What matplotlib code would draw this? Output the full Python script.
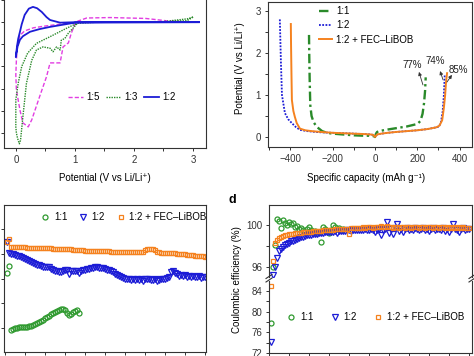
import matplotlib
matplotlib.use("Agg")
import matplotlib.pyplot as plt
from matplotlib.lines import Line2D
from matplotlib.ticker import MultipleLocator

W, H = 474, 356

# ---- a: cyclic voltammograms (potential V, current arb.)
cv15_v = [3.0, 2.6, 2.2, 1.6, 1.2, 1.05, 1.0, 0.94, 0.89, 0.8, 0.75, 0.58, 0.52, 0.4, 0.27,
          0.21, 0.12, 0.07, 0.01, 0.0, 0.01, 0.03, 0.07, 0.15, 0.3, 0.5, 0.8, 1.0, 1.5, 2.0, 3.0]
cv15_i = [0.0, 0.02, 0.08, 0.1, 0.09, 0.02, -0.05, -0.25, -0.47, -0.56, -0.92, -0.92, -1.23, -1.69, -2.2,
          -2.36, -2.27, -1.98, -1.53, -1.19, -0.85, -0.5, -0.3, -0.2, -0.13, -0.09, -0.04, -0.01, 0.0, 0.0, 0.0]
cv13_v = [3.0, 2.9, 2.5, 2.0, 1.5, 1.05, 0.94, 0.89, 0.83, 0.77, 0.75, 0.69, 0.63, 0.58, 0.46, 0.35,
          0.27, 0.18, 0.12, 0.08, 0.06, 0.03, 0.01, 0.0, 0.0, 0.04, 0.1, 0.2, 0.35, 0.58, 0.86, 1.05,
          1.5, 2.0, 2.5, 2.73, 2.9, 3.0]
cv13_i = [0.11, 0.03, 0.0, 0.0, 0.0, -0.02, -0.18, -0.25, -0.37, -0.41, -0.63, -0.56, -0.67, -0.59, -0.56, -0.63,
          -0.86, -1.38, -2.13, -2.66, -2.74, -2.62, -2.5, -2.36, -1.75, -1.38, -1.0, -0.7, -0.48, -0.33, -0.14, -0.02,
          0.0, 0.0, 0.01, 0.045, 0.07, 0.11]
cv12_v = [3.1, 2.0, 1.0, 0.8, 0.58, 0.4, 0.24, 0.12, 0.07, 0.03, 0.0, 0.02, 0.04, 0.07, 0.1, 0.15,
          0.22, 0.29, 0.36, 0.44, 0.52, 0.58, 0.75, 1.0, 2.0, 3.1]
cv12_i = [-0.005, -0.01, -0.015, -0.06, -0.11, -0.16, -0.22, -0.32, -0.4, -0.55, -0.79, -0.55, -0.38, -0.22, -0.05, 0.16,
          0.3, 0.34, 0.31, 0.225, 0.11, 0.045, -0.015, -0.005, 0.0, 0.0]

# ---- b: first cycle voltage profiles (capacity mAh/g, potential V)
b11_cap = [-312, -311, -309, -306, -300, -290, -275, -250, -227, -200, -150, -100, -50, -20, -5, 0,
           5, 10, 20, 50, 100, 150, 200, 215, 225, 232, 237, 240]
b11_v = [2.43, 2.0, 1.4, 0.76, 0.5, 0.35, 0.24, 0.14, 0.1, 0.08, 0.06, 0.04, 0.03, 0.03, 0.02, 0.0,
         0.08, 0.12, 0.14, 0.17, 0.21, 0.25, 0.31, 0.38, 0.55, 0.8, 1.1, 1.42]
b12_cap = [-450, -448, -445, -440, -426, -410, -393, -375, -355, -320, -280, -250, -200, -150, -100, -50,
           -20, -8, 0, 10, 30, 60, 100, 150, 200, 250, 290, 303, 312, 320, 326, 330]
b12_v = [2.8, 2.4, 1.8, 1.0, 0.57, 0.42, 0.33, 0.24, 0.17, 0.14, 0.12, 0.11, 0.1, 0.09, 0.08, 0.07,
         0.06, 0.05, 0.0, 0.06, 0.08, 0.1, 0.12, 0.14, 0.16, 0.19, 0.23, 0.25, 0.35, 0.6, 1.0, 1.48]
bfec_cap = [-398, -397, -395, -393, -386, -379, -370, -355, -330, -300, -255, -200, -150, -100, -50, -20,
            -8, 0, 10, 30, 60, 100, 150, 200, 250, 290, 305, 318, 326, 332, 336, 341]
bfec_v = [2.69, 2.2, 1.5, 0.88, 0.62, 0.48, 0.33, 0.2, 0.16, 0.14, 0.12, 0.1, 0.09, 0.08, 0.07, 0.06,
          0.05, 0.0, 0.06, 0.08, 0.1, 0.12, 0.14, 0.16, 0.19, 0.23, 0.27, 0.4, 0.7, 1.0, 1.3, 1.52]
ce_labels = ["77%", "74%", "85%"]
ce_text_xy = [(175, 1.71), (284, 1.81), (393, 1.60)]
ce_tail_xy = [(227, 1.24), (322, 1.36), (341, 1.31)]
ce_head_xy = [(208, 1.55), (308, 1.57), (364, 1.48)]

# ---- c: cycling capacity
cap_11 = [211, 225, 96, 98, 100, 101, 102, 102, 102.5, 103, 103, 104, 105, 106.5, 108, 110, 112, 114.5,
          117, 119.5, 122, 125, 127.5, 130, 133, 135, 137, 138, 137.5, 136, 130, 126, 129, 133, 134, 136, 131]
cap_12 = [274, 251, 250, 249, 247.5, 246, 244.5, 243, 241, 239, 237, 235, 233, 231, 229.5, 228, 226.5, 225,
          224, 223.5, 223, 222.5, 220, 218, 216, 215, 214, 213.5, 216, 217, 217.5, 210, 216, 215.5, 215, 215.5,
          211, 216, 217.5, 218, 218.5, 220, 221.5, 222, 222.5, 222.5, 221.5, 222, 220.5, 219.5, 218, 216.5,
          214.5, 213, 210, 207, 205, 203, 201, 199, 200, 198.5, 197.5, 198, 196, 199, 197.5, 199, 194, 198,
          199.5, 200, 197.5, 197, 198, 195, 197, 198, 199.5, 200, 201, 204, 213, 215, 212, 210, 206, 208,
          205, 207, 204, 206, 203, 205, 204, 203, 205, 202, 204, 203]
cap_fec = [274, 280, 264.5, 264.2, 264.0, 263.8, 263.5, 263.2, 263.0, 262.8, 262.6, 262.5, 262.3, 262.2,
           262.0, 261.8, 261.7, 261.5, 261.3, 261.2, 261.0, 260.9, 260.8, 260.6, 260.5, 260.3, 260.2, 260.0,
           259.8, 259.7, 259.5, 259.2, 258.8, 258.4, 258.0, 257.6, 257.3, 257.0, 256.7, 256.5, 256.3, 256.1,
           255.9, 255.7, 255.5, 255.3, 255.1, 255.0, 254.9, 254.8, 254.7, 254.6, 254.5, 254.5, 254.4, 254.3,
           254.3, 254.2, 254.2, 254.1, 254.1, 254.0, 254.0, 253.9, 253.9, 253.8, 253.8, 253.7, 254.5, 258.5,
           259.2, 259.3, 259.2, 259.0, 258.5, 253.0, 252.6, 252.3, 252.1, 251.9, 251.7, 251.4, 251.2, 250.9,
           250.6, 250.3, 250.0, 249.6, 249.2, 248.8, 248.3, 247.8, 247.3, 246.9, 246.4, 245.9, 245.4, 245.0,
           244.6, 244.2]

# ---- d: coulombic efficiency (%)
ce_11 = [77.8, 96.0, 98.1, 100.6, 100.4, 99.7, 100.5, 100.2, 100.0, 100.3, 100.1, 100.2, 99.8, 99.9, 99.6,
         99.7, 99.5, 99.3, 99.6, 99.8, 99.5, 99.3, 99.4, 99.2, 99.3, 98.4, 99.8, 99.6, 99.4, 99.2, 99.5, 100.0,
         99.8, 99.6, 99.7, 99.5, 99.6]
ce_12 = [74.1, 95.2, 96.0, 96.9, 97.5, 97.7, 97.9, 98.1, 98.2, 98.3, 98.5, 98.5, 98.6, 98.7, 98.8, 98.85,
         98.9, 98.95, 99.0, 99.0, 99.05, 99.1, 99.1, 99.15, 99.2, 99.2, 99.25, 99.3, 99.3, 99.3, 99.35, 99.35,
         99.4, 99.2, 99.4, 99.45, 99.4, 99.45, 99.5, 99.5, 99.45, 99.5, 99.55, 99.5, 99.55, 99.5, 99.55, 99.6,
         99.55, 99.5, 99.6, 99.55, 99.3, 99.5, 99.6, 99.0, 99.55, 99.6, 100.3, 99.2, 99.6, 99.1, 99.7, 100.1,
         99.4, 99.6, 99.3, 99.6, 99.7, 99.5, 99.6, 99.5, 99.7, 99.6, 99.5, 99.6, 99.7, 99.5, 99.6, 99.4,
         99.6, 99.7, 99.5, 99.6, 99.6, 99.5, 99.7, 99.4, 99.6, 99.3, 99.6, 100.1, 99.6, 99.5, 99.3, 99.6,
         99.7, 99.5, 99.6, 99.6]
ce_fec = [85.0, 96.6, 98.3, 98.6, 98.8, 98.9, 98.95, 99.0, 99.05, 99.1, 99.1, 99.15, 99.2, 99.2, 99.25,
          99.25, 99.3, 99.3, 99.3, 99.35, 99.35, 99.4, 99.4, 99.4, 99.45, 99.45, 99.5, 99.5, 99.5, 99.5,
          99.55, 99.55, 99.6, 99.6, 99.6, 99.6, 99.6, 99.65, 99.65, 99.1, 99.7, 99.7, 99.7, 99.75, 99.7,
          99.75, 99.8, 99.75, 99.8, 99.8, 99.8, 99.75, 99.8, 99.85, 99.8, 99.9, 99.85, 99.8, 99.9, 99.85,
          99.8, 99.75, 99.8, 99.8, 99.75, 99.8, 99.8, 99.75, 99.8, 99.8, 99.75, 99.8, 99.8, 99.8, 99.75,
          99.8, 99.8, 99.75, 99.8, 99.8, 99.8, 99.75, 99.8, 99.8, 99.75, 99.8, 99.8, 99.75, 99.8, 99.75,
          99.8, 99.75, 99.8, 99.75, 99.8, 99.75, 99.8, 99.75, 99.75, 99.75]

GREEN = "#2a8a2a"
GREEN_M = "#2f9a2f"
BLUE = "#1c1cd6"
MAGENTA = "#e23ee2"
ORANGE = "#f5821f"
SPINE = "#333333"

plt.rcParams["font.family"] = ["Liberation Sans", "DejaVu Sans"]
plt.rcParams["font.size"] = 7
plt.rcParams["axes.linewidth"] = 0.8
plt.rcParams["axes.edgecolor"] = SPINE
for ax_ in ("xtick", "ytick"):
    plt.rcParams[ax_ + ".direction"] = "out"
    plt.rcParams[ax_ + ".major.size"] = 2.5
    plt.rcParams[ax_ + ".minor.size"] = 2.0
    plt.rcParams[ax_ + ".major.width"] = 0.7
    plt.rcParams[ax_ + ".minor.width"] = 0.7
    plt.rcParams[ax_ + ".major.pad"] = 2.5
    plt.rcParams[ax_ + ".color"] = SPINE

fig = plt.figure(figsize=(W / 100, H / 100), dpi=100)


def box(x0, y0, x1, y1):
    # pixel box (top-left origin) -> figure fraction
    return [x0 / W, 1 - y1 / H, (x1 - x0) / W, (y1 - y0) / H]


def fxy(x, y):
    return (x / W, 1 - y / H)


# ------------------------------------------------------------- panel a
ax_a = fig.add_axes(box(4, -10, 206, 148))
ax_a.plot(cv15_v, cv15_i, color=MAGENTA, lw=1.0, ls=(0, (3, 1.5)), label="1:5")
ax_a.plot(cv13_v, cv13_i, color=GREEN, lw=1.0, ls=(0, (1, 0.8)), label="1:3")
ax_a.plot(cv12_v, cv12_i, color=BLUE, lw=1.3, label="1:2")
ax_a.set_xlim(-0.2, 3.22)
ax_a.set_ylim(-2.835, 0.72)
ax_a.xaxis.set_major_locator(MultipleLocator(1))
ax_a.xaxis.set_minor_locator(MultipleLocator(0.5))
ax_a.yaxis.set_major_locator(MultipleLocator(0.5))
ax_a.tick_params(axis="y", labelleft=False)  # labels lie outside the cropped picture
ax_a.legend(loc="center", bbox_to_anchor=fxy(122, 97), bbox_transform=fig.transFigure, ncol=3,
            frameon=False, handlelength=1.5, handletextpad=0.35, columnspacing=0.7,
            borderpad=0, borderaxespad=0)
fig.text(*fxy(105, 178), "Potential (V vs Li/Li\u207a)", ha="center", va="center")

# ------------------------------------------------------------- panel b
ax_b = fig.add_axes(box(268, 1.5, 472, 147))
ax_b.plot(b12_cap, b12_v, color=BLUE, lw=1.3, ls=(0, (1, 0.8)), label="1:2")
ax_b.plot(b11_cap, b11_v, color=GREEN, lw=1.7, ls=(0, (4, 1.5, 1, 1.5)), label="1:1")
ax_b.plot(bfec_cap, bfec_v, color=ORANGE, lw=1.4, label="1:2 + FEC\u2013LiBOB")
for lab, t, tail, head in zip(ce_labels, ce_text_xy, ce_tail_xy, ce_head_xy):
    ax_b.annotate("", xy=head, xytext=tail,
                  arrowprops=dict(arrowstyle="-|>", color="#333333", lw=0.6,
                                  mutation_scale=5, shrinkA=0, shrinkB=0))
    ax_b.text(t[0], t[1], lab, ha="center", va="center", fontsize=7, color="#222222")
ax_b.set_xlim(-506, 459)
ax_b.set_ylim(-0.238, 3.226)
ax_b.xaxis.set_major_locator(MultipleLocator(200))
ax_b.xaxis.set_minor_locator(MultipleLocator(100))
ax_b.yaxis.set_major_locator(MultipleLocator(1))
ax_b.yaxis.set_minor_locator(MultipleLocator(0.5))
hb, lb = ax_b.get_legend_handles_labels()
order = [1, 0, 2]
ax_b.legend([hb[i] for i in order], [lb[i] for i in order], loc="upper left",
            bbox_to_anchor=fxy(319, 6), bbox_transform=fig.transFigure,
            frameon=False, handlelength=1.3, handletextpad=0.5, labelspacing=0.45,
            borderpad=0, borderaxespad=0)
fig.text(*fxy(366, 178), "Specific capacity (mAh g\u207b\u00b9)", ha="center", va="center")
fig.text(*fxy(240, 68), "Potential (V vs Li/Li\u207a)", ha="center", va="center", rotation=90)

# ------------------------------------------------------------- panel c
ax_c = fig.add_axes(box(4, 205, 206, 352))
mk = dict(ls="none", mfc="none")
ax_c.plot(range(1, len(cap_11) + 1), cap_11, marker="o", mec=GREEN_M, ms=3.6, mew=0.9, label="1:1", **mk)
ax_c.plot(range(1, len(cap_12) + 1), cap_12, marker="v", mec=BLUE, ms=4.0, mew=0.9, label="1:2", **mk)
ax_c.plot(range(1, len(cap_fec) + 1), cap_fec, marker="s", mec=ORANGE, ms=3.0, mew=0.9,
          label="1:2 + FEC\u2013LiBOB", **mk)
ax_c.set_xlim(-0.5, 100.5)
ax_c.set_ylim(51.5, 348.5)
ax_c.xaxis.set_major_locator(MultipleLocator(10))
ax_c.yaxis.set_major_locator(MultipleLocator(50))
ax_c.tick_params(labelleft=False, labelbottom=False)
ax_c.legend(loc="center", bbox_to_anchor=fxy(124, 217), bbox_transform=fig.transFigure, ncol=3,
            frameon=False, handlelength=0.8, handletextpad=0.5, columnspacing=1.2,
            borderpad=0, borderaxespad=0)

# ------------------------------------------------------------- panel d (broken axis)
ax_d1 = fig.add_axes(box(269, 205, 472, 277))
ax_d2 = fig.add_axes(box(269, 281, 472, 353))
for axd in (ax_d1, ax_d2):
    axd.plot(range(1, len(ce_11) + 1), ce_11, marker="o", mec=GREEN_M, ms=3.6, mew=0.9, label="1:1", **mk)
    axd.plot(range(1, len(ce_12) + 1), ce_12, marker="v", mec=BLUE, ms=4.0, mew=0.9, label="1:2", **mk)
    axd.plot(range(1, len(ce_fec) + 1), ce_fec, marker="s", mec=ORANGE, ms=3.0, mew=0.9,
             label="1:2 + FEC\u2013LiBOB", **mk)
    axd.set_xlim(0, 101.5)
    axd.xaxis.set_major_locator(MultipleLocator(10))
ax_d1.set_ylim(95.05, 101.9)
ax_d1.yaxis.set_major_locator(MultipleLocator(4))
ax_d1.yaxis.set_minor_locator(MultipleLocator(2))
ax_d1.spines["bottom"].set_visible(False)
ax_d1.tick_params(axis="x", which="both", bottom=False, labelbottom=False)
ax_d2.set_ylim(72, 85.93)
ax_d2.yaxis.set_major_locator(MultipleLocator(4))
ax_d2.yaxis.set_minor_locator(MultipleLocator(2))
ax_d2.spines["top"].set_visible(False)
ax_d2.tick_params(axis="x", labelbottom=False)
ax_d2.legend(loc="center", bbox_to_anchor=fxy(376, 317), bbox_transform=fig.transFigure, ncol=3,
             frameon=False, handlelength=0.8, handletextpad=0.5, columnspacing=1.8,
             borderpad=0, borderaxespad=0)
for sx in (269, 472):
    for dy in (0, 3.5):
        x0, y0 = fxy(sx - 3, 280 + dy - 1.5)
        x1, y1 = fxy(sx + 3, 276 + dy - 1.5)
        fig.add_artist(Line2D([x0, x1], [y0, y1], color=SPINE, lw=0.8))
fig.text(*fxy(237, 280), "Coulombic efficiency (%)", ha="center", va="center", rotation=90)
fig.text(*fxy(232, 200), "d", ha="center", va="center", fontsize=9, fontweight="bold")

fig.savefig("out.png", dpi=100)
